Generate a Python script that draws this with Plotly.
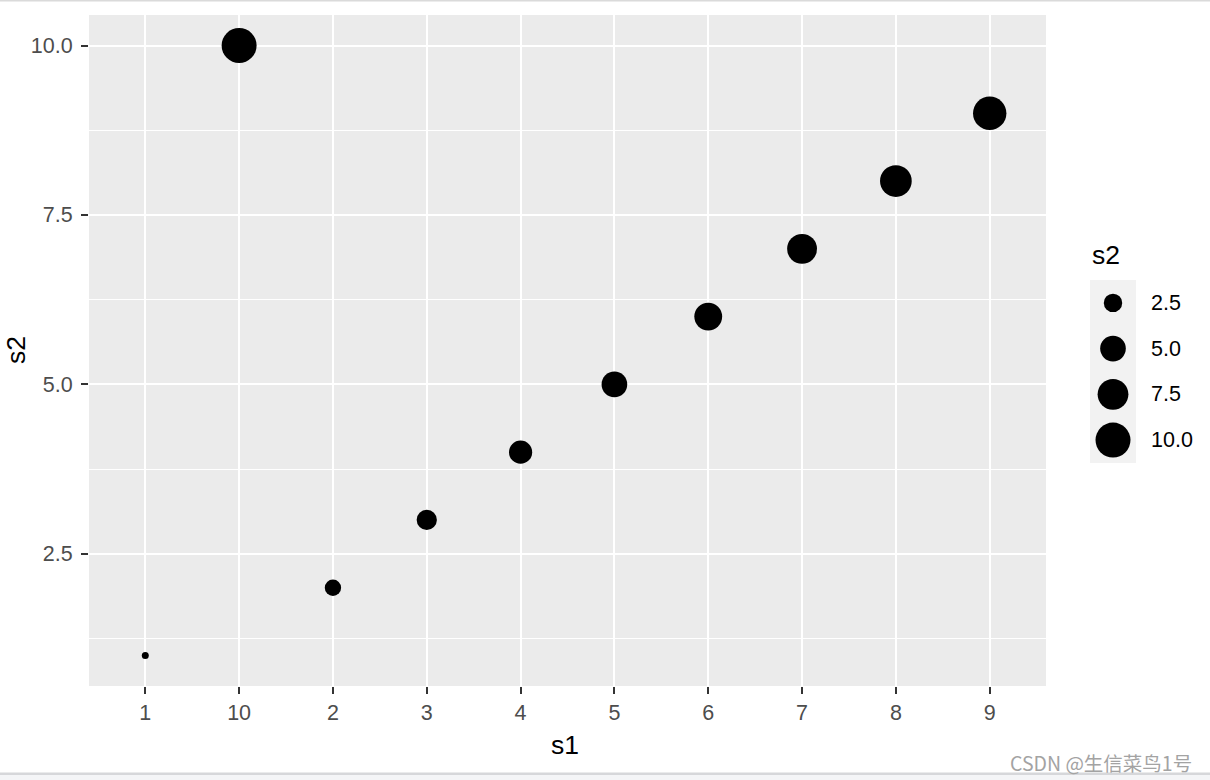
import math
import plotly.graph_objects as go

# data
s1 = [str(i) for i in range(1, 11)]
s2 = [1, 2, 3, 4, 5, 6, 7, 8, 9, 10]
x_order = sorted(s1)                     # factor levels, as R sorts them: 1, 10, 2, ...
y_ticks = [2.5, 5.0, 7.5, 10.0]
legend_values = [2.5, 5.0, 7.5, 10.0]
legend_labels = ["2.5", "5.0", "7.5", "10.0"]

W, H = 1210, 780
FONT = "Arial, Liberation Sans, sans-serif"


def px_size(v):
    # ggplot scale_size (area) mapped to pixel diameter
    return 7 + 28 * math.sqrt((v - min(s2)) / (max(s2) - min(s2)))


def fx(px):
    return px / W


def fy(px):
    return 1 - px / H


fig = go.Figure()
fig.add_trace(go.Scatter(
    x=s1, y=s2, mode="markers",
    marker=dict(color="black", size=[px_size(v) for v in s2], line=dict(width=0), opacity=1),
    xaxis="x", yaxis="y", showlegend=False, hoverinfo="x+y",
))

# size legend drawn on its own little axes
fig.add_trace(go.Scatter(
    x=[0.5] * len(legend_values), y=[3.5, 2.5, 1.5, 0.5], mode="markers",
    marker=dict(color="black", size=[px_size(v) for v in legend_values], line=dict(width=0), opacity=1),
    xaxis="x2", yaxis="y2", showlegend=False, hoverinfo="skip",
))

axis_common = dict(
    showline=False, zeroline=False, automargin=False,
    ticks="outside", ticklen=7, tickwidth=2, tickcolor="#333333",
    tickfont=dict(family=FONT, size=21.5, color="#4D4D4D"),
    gridcolor="white", gridwidth=2,
)

fig.update_layout(
    width=W, height=H,
    margin=dict(l=0, r=0, t=0, b=0),
    paper_bgcolor="white", plot_bgcolor="#EBEBEB",
    xaxis=dict(
        **axis_common,
        type="category", categoryorder="array", categoryarray=x_order,
        range=[-0.6, len(x_order) - 0.4],
        domain=[fx(89), fx(1046)], anchor="y",
        ticklabelstandoff=0,
    ),
    yaxis=dict(
        **axis_common,
        range=[0.55, 10.45], tickvals=y_ticks, tickformat=".1f",
        domain=[fy(686), fy(15)], anchor="x",
        minor=dict(dtick=1.25, tick0=0, showgrid=True, gridcolor="white", gridwidth=1, ticks=""),
        ticklabelstandoff=4,
    ),
    xaxis2=dict(domain=[fx(1090), fx(1136)], range=[0, 1], visible=False, fixedrange=True, anchor="y2"),
    yaxis2=dict(domain=[fy(463), fy(280)], range=[0, 4], visible=False, fixedrange=True, anchor="x2"),
    showlegend=False,
)

shapes = [
    # legend key background
    dict(type="rect", xref="paper", yref="paper", x0=fx(1090), x1=fx(1136), y0=fy(463), y1=fy(280),
         fillcolor="#F2F2F2", line=dict(width=0), layer="below"),
    # window frame lines of the screenshot
    dict(type="rect", xref="paper", yref="paper", x0=0, x1=1, y0=fy(1.5), y1=1,
         fillcolor="#DADADA", line=dict(width=0)),
    dict(type="rect", xref="paper", yref="paper", x0=0, x1=1, y0=0, y1=fy(773),
         fillcolor="#F4F5F7", line=dict(width=0)),
    dict(type="rect", xref="paper", yref="paper", x0=0, x1=1, y0=fy(775), y1=fy(772.5),
         fillcolor="#D6D7DA", line=dict(width=0)),
]
fig.update_layout(shapes=shapes)

annotations = [
    dict(text="s1", x=fx(565), y=fy(745), xref="paper", yref="paper", showarrow=False,
         xanchor="center", yanchor="middle", font=dict(family=FONT, size=26.5, color="black")),
    dict(text="s2", x=fx(16), y=fy(350), xref="paper", yref="paper", showarrow=False, textangle=-90,
         xanchor="center", yanchor="middle", font=dict(family=FONT, size=26.5, color="black")),
    dict(text="s2", x=fx(1090), y=fy(255), xref="paper", yref="paper", showarrow=False,
         xanchor="left", yanchor="middle", font=dict(family=FONT, size=26.5, color="black")),
    dict(text="CSDN @生信菜鸟1号", x=fx(1194), y=fy(762), xref="paper", yref="paper", showarrow=False,
         xanchor="right", yanchor="middle",
         font=dict(family="Noto Sans CJK SC, sans-serif", size=19.5, color="#A3A3A3")),
]
for lab, yy in zip(legend_labels, [3.5, 2.5, 1.5, 0.5]):
    annotations.append(dict(text=lab, x=fx(1149), y=yy, xref="paper", yref="y2", showarrow=False,
                            xanchor="left", yanchor="middle",
                            font=dict(family=FONT, size=21.5, color="black")))
fig.update_layout(annotations=annotations)

# page body has a default 8px margin; drop it so the figure sits at the window corner
fig.write_html("out.html", config={"displayModeBar": False},
               post_script="document.body.style.margin='0';")
